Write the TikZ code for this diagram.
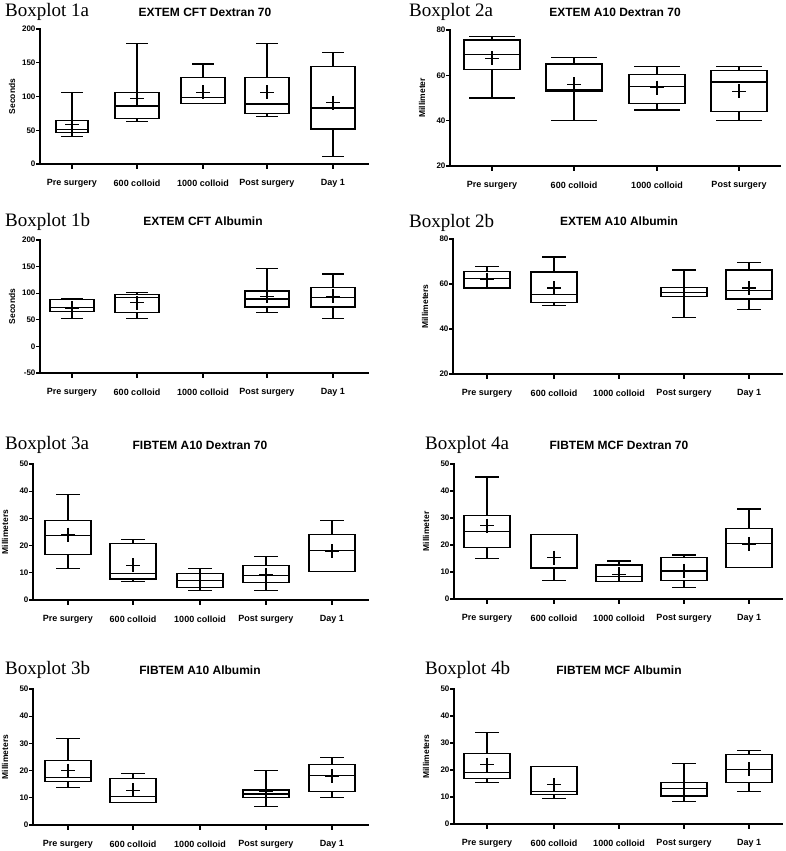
\documentclass[tikz,border=0pt]{standalone}
\usepackage{fontspec}
\setmainfont{Liberation Serif}
\newfontfamily\arialf{Liberation Sans}
\tikzset{
  axl/.style={line width=1.2pt,line cap=rect},
  bxl/.style={line width=1.2pt},
  ticklab/.style={font=\arialf\bfseries\fontsize{8}{9}\selectfont, inner sep=1pt},
  catlab/.style={font=\arialf\bfseries\fontsize{9}{10}\selectfont, inner sep=0pt},
  ylab/.style={font=\arialf\bfseries\fontsize{8.5}{9}\selectfont, rotate=90, inner sep=0pt},
  ttl/.style={font=\fontsize{19}{20}\selectfont, anchor=west, inner sep=0pt},
  sub/.style={font=\arialf\bfseries\fontsize{12}{13}\selectfont, inner sep=0pt}
}
% cx halfbox halfcap lo q1 med q3 hi mean
\newcommand\bxp[9]{%
  \draw[bxl] ({#1-#3},#4) -- ({#1+#3},#4);
  \draw[bxl] (#1,#4) -- (#1,#5);
  \draw[bxl] ({#1-#2},#5) rectangle ({#1+#2},#7);
  \draw[bxl] ({#1-#2},#6) -- ({#1+#2},#6);
  \draw[bxl] (#1,#7) -- (#1,#8);
  \draw[bxl] ({#1-#3},#8) -- ({#1+#3},#8);
  \draw[bxl] ({#1-7},#9) -- ({#1+7},#9);
  \draw[bxl] ([yshift=7pt]#1,#9) -- ([yshift=-7pt]#1,#9);
}
% ax axend vmin second vmax ylabel
\newcommand\axs[6]{%
  \draw[axl] (#1,#5) -- (#1,#3) -- (#2,#3);
  \foreach \v in {#3,#4,...,#5} {\draw[axl] (#1,\v) -- ++(-3pt,0) node[left,ticklab]{\v};}
  \node[ylab] at ({#1-28},{(#3+#5)/2}) {#6};
}
\newcommand\cats[6]{% vmin, five x
  \foreach \c/\t in {#2/Pre surgery,#3/600 colloid,#4/1000 colloid,#5/Post surgery,#6/Day 1}{%
    \draw[axl] (\c,#1) -- ++(0,-4pt);
    \node[catlab] at ([yshift=-19pt]\c,#1) {\t};}
}
\begin{document}
\begin{tikzpicture}[x=1pt,y=-1pt]
\useasboundingbox[fill=white] (0,0) rectangle (785,851);
% titles
\node[ttl] at (5,12) {Boxplot 1a}; \node[sub] at (205,12) {EXTEM CFT Dextran 70};
\node[ttl] at (409,12) {Boxplot 2a}; \node[sub] at (615,12) {EXTEM A10 Dextran 70};
\node[ttl] at (5,222) {Boxplot 1b}; \node[sub] at (203,221) {EXTEM CFT Albumin};
\node[ttl] at (409,223) {Boxplot 2b}; \node[sub] at (619,221) {EXTEM A10 Albumin};
\node[ttl] at (5,445) {Boxplot 3a}; \node[sub] at (200,445) {FIBTEM A10 Dextran 70};
\node[ttl] at (425,445) {Boxplot 4a}; \node[sub] at (619,445) {FIBTEM MCF Dextran 70};
\node[ttl] at (5,670) {Boxplot 3b}; \node[sub] at (200,670) {FIBTEM A10 Albumin};
\node[ttl] at (425,670) {Boxplot 4b}; \node[sub] at (619,670) {FIBTEM MCF Albumin};
% 1a
\begin{scope}[yshift=-164pt,y=0.675pt]
\axs{40}{368}{0}{50}{200}{Seconds}
\cats{0}{72}{137}{203}{267}{333}
\bxp{72}{16}{11}{41}{47}{51}{65}{106}{58}
\bxp{137}{22}{11}{63}{67}{86}{106}{179}{97}
\bxp{203}{22}{11}{90}{90}{98}{128}{148}{106}
\bxp{267}{22}{11}{70}{75}{89}{128}{179}{106}
\bxp{333}{22}{11}{11}{52}{83}{145}{165}{91}
\end{scope}
% 1b
\begin{scope}[yshift=-346.4pt,y=0.532pt]
\axs{40}{368}{-50}{0}{200}{Seconds}
\cats{-50}{72}{137}{203}{267}{333}
\bxp{72}{22}{11}{52}{66}{73}{88}{89}{72}
\bxp{137}{22}{11}{52}{63}{92}{97}{102}{82}
\bxp{267}{22}{11}{64}{74}{89}{104}{147}{94}
\bxp{333}{22}{11}{52}{74}{92}{111}{136}{94}
\end{scope}
% 2a
\begin{scope}[yshift=-211.3pt,y=2.267pt]
\axs{450}{780}{20}{40}{80}{Millimeter}
\foreach \c/\t in {492/Pre surgery,574/600 colloid,657/1000 colloid,739/Post surgery}{%
  \draw[axl] (\c,20) -- ++(0,-4pt);
  \node[catlab] at ([yshift=-19pt]\c,20) {\t};}
\bxp{492}{28}{23}{50}{62.6}{69}{75.6}{77}{67.5}
\bxp{574}{28}{23}{40}{53}{53.5}{65}{68}{56}
\bxp{657}{28}{23}{44.7}{47.6}{55}{60.5}{64}{54.5}
\bxp{739}{28}{23}{40}{44}{57}{62}{64}{53}
\end{scope}
% 2b
\begin{scope}[yshift=-419pt,y=2.25pt]
\axs{453}{782}{20}{40}{80}{Millimeters}
\cats{20}{487}{554}{619}{684}{749}
\bxp{487}{23}{12}{58}{58.2}{62.3}{65.6}{67.8}{62}
\bxp{554}{23}{12}{50.6}{51.8}{55.2}{65.3}{72}{58.2}
\bxp{684}{23}{12}{45.2}{54.4}{56.4}{58.5}{66.2}{56.4}
\bxp{749}{23}{12}{48.5}{53.3}{57.1}{66.2}{69.6}{58.2}
\end{scope}
% 3a
\begin{scope}[yshift=-600pt,y=2.72pt]
\axs{33}{368}{0}{10}{50}{Millimeters}
\cats{0}{68}{133}{200}{266}{332}
\bxp{68}{23}{12}{11.7}{16.6}{23.7}{29.1}{38.7}{24}
\bxp{133}{23}{12}{6.8}{7.7}{9.6}{20.9}{22.1}{12.7}
\bxp{200}{23}{12}{3.4}{4.5}{7.1}{9.8}{11.7}{7.1}
\bxp{266}{23}{12}{3.4}{6.5}{9}{12.7}{16}{9.2}
\bxp{332}{23}{12}{10.4}{10.4}{18.2}{24.2}{29.1}{18}
\end{scope}
% 4a
\begin{scope}[yshift=-599pt,y=2.7pt]
\axs{454}{782}{0}{10}{50}{Millimeter}
\cats{0}{487}{554}{619}{684}{749}
\bxp{487}{23}{12}{15.1}{19.1}{25}{30.9}{45.2}{27.2}
\bxp{554}{23}{12}{7}{11.3}{11.8}{24}{24}{15.3}
\bxp{619}{23}{12}{6.4}{6.4}{8.3}{12.6}{14.1}{9.2}
\bxp{684}{23}{12}{4.2}{7}{10.4}{15.3}{16.3}{10.4}
\bxp{749}{23}{12}{11.6}{11.6}{20.7}{26.2}{33.3}{20.4}
\end{scope}
% 3b
\begin{scope}[yshift=-825pt,y=2.72pt]
\axs{33}{368}{0}{10}{50}{Millimeters}
\cats{0}{68}{133}{200}{266}{332}
\bxp{68}{23}{12}{13.9}{16}{17.4}{23.7}{31.7}{19.9}
\bxp{133}{23}{12}{8.2}{8.2}{10.4}{17.2}{18.8}{12.7}
\bxp{266}{23}{12}{6.8}{10.1}{11.4}{12.9}{19.9}{12.3}
\bxp{332}{23}{12}{10.1}{12.3}{18.2}{22.1}{24.8}{18}
\end{scope}
% 4b
\begin{scope}[yshift=-824pt,y=2.7pt]
\axs{454}{782}{0}{10}{50}{Millimeters}
\cats{0}{487}{554}{619}{684}{749}
\bxp{487}{23}{12}{15.5}{17}{19.2}{26.2}{33.9}{22}
\bxp{554}{23}{12}{9.3}{10.8}{12}{21.3}{21.3}{14.5}
\bxp{684}{23}{12}{8.3}{10.4}{13.2}{15.5}{22.5}{13.2}
\bxp{749}{23}{12}{12}{15.5}{20.3}{25.6}{27.2}{20.3}
\end{scope}
\end{tikzpicture}
\end{document}
